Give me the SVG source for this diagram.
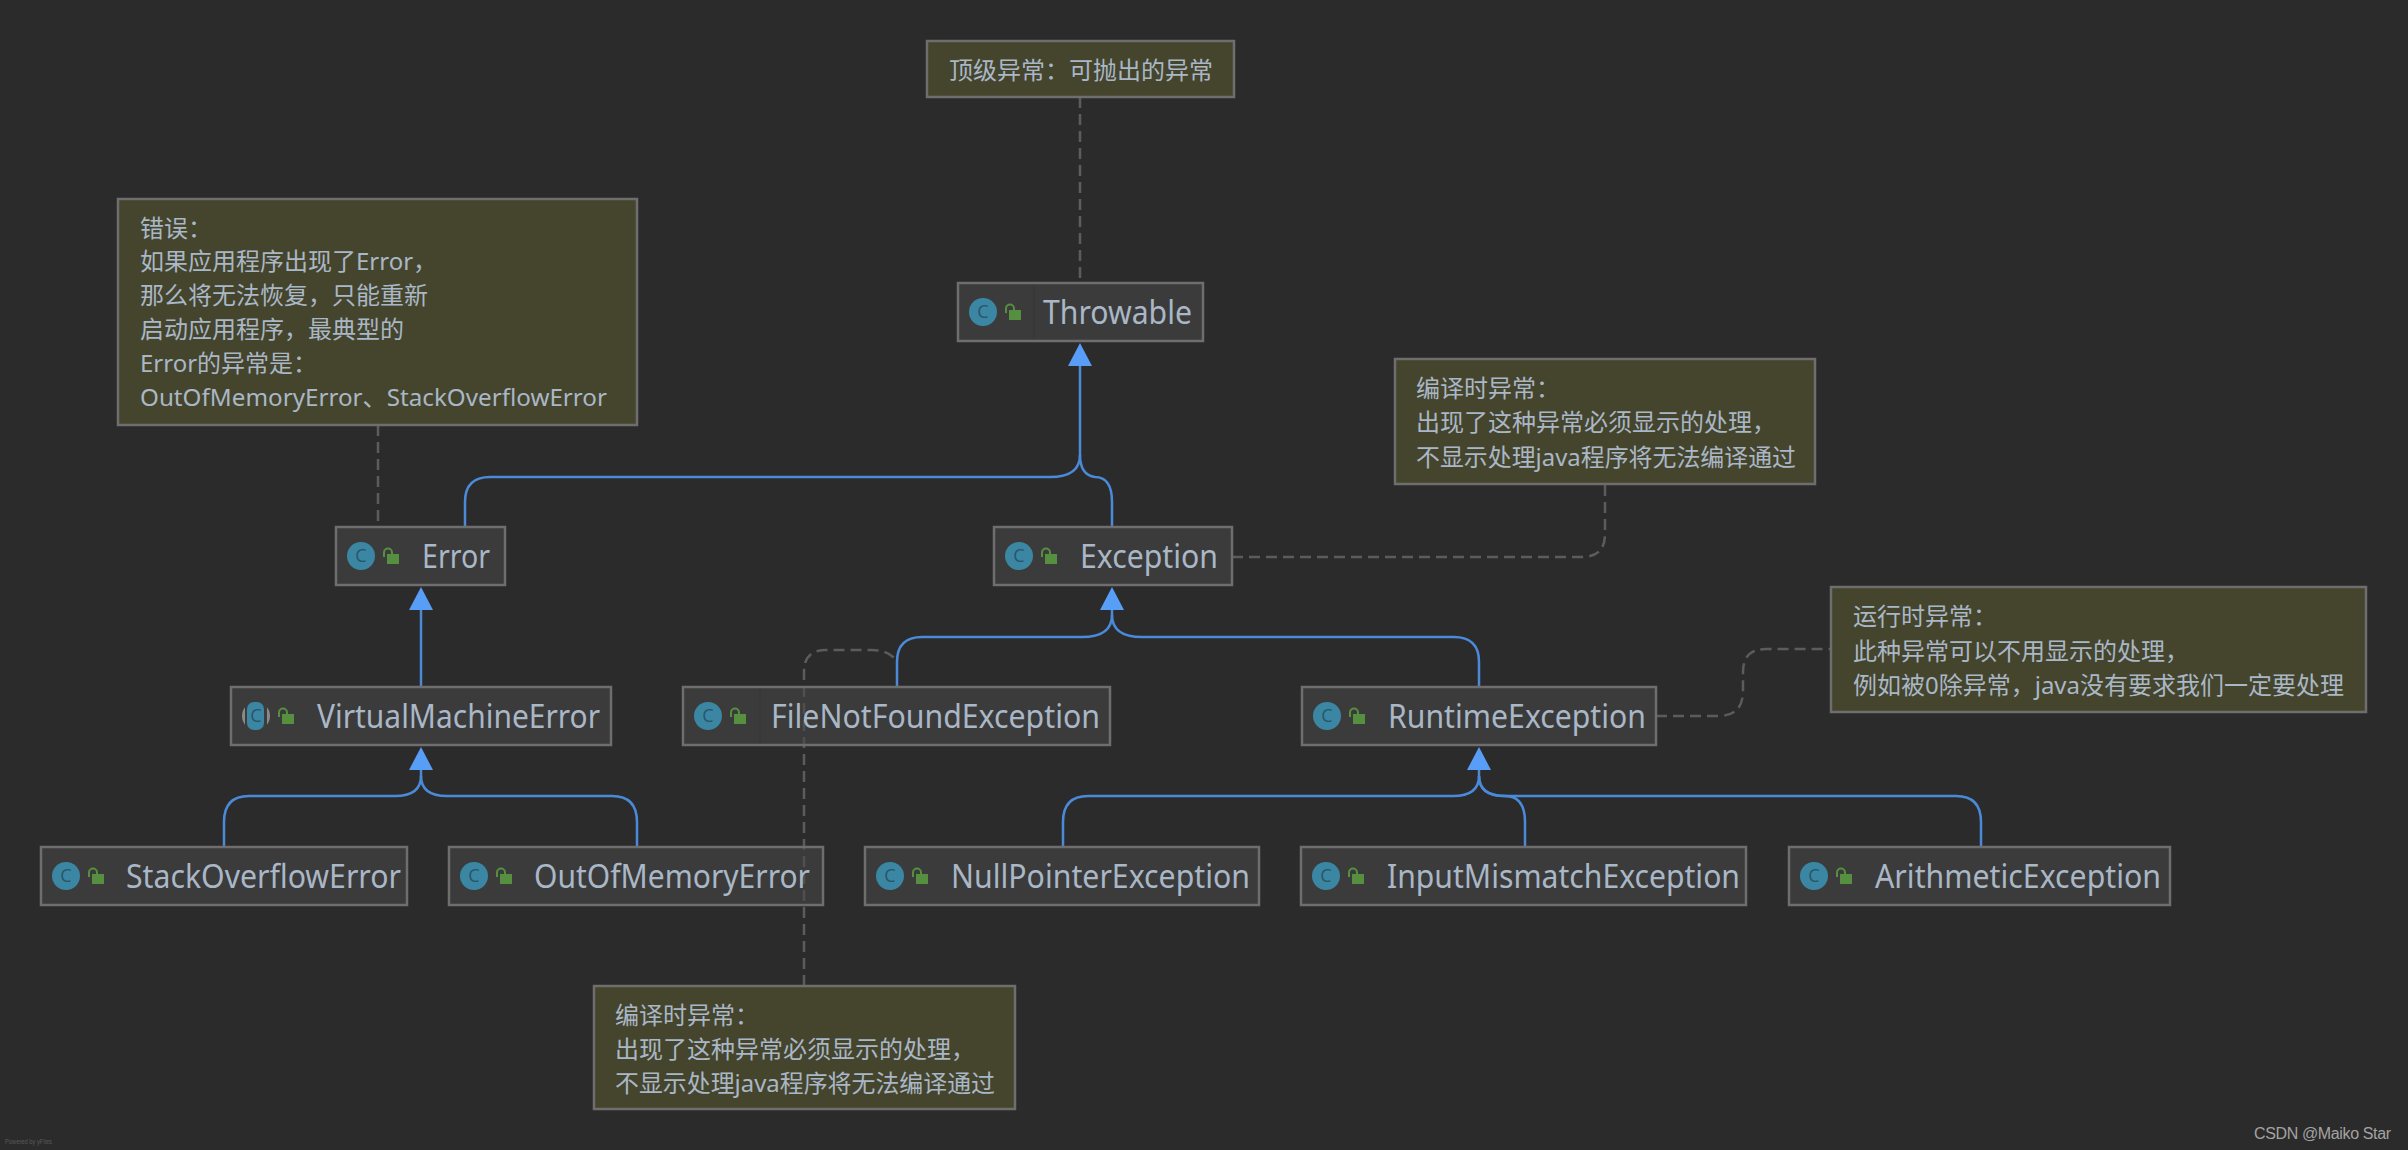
<svg xmlns="http://www.w3.org/2000/svg" xmlns:xlink="http://www.w3.org/1999/xlink" width="2408" height="1150" viewBox="0 0 2408 1150">
<style>
.node{fill:#464646;fill-opacity:.6;stroke:#6e6e6e;stroke-width:2.500}
.note{fill:#45452d;stroke:#6e6e6e;stroke-width:2.500}
.lbl{font-family:"Noto Sans","Noto Sans CJK SC",sans-serif;font-size:32px;fill:#a9b7c6}
.txt{font-family:"Noto Sans","Noto Sans CJK SC",sans-serif;font-size:24px;fill:#a9b7c6}
.ic{fill:#3b87a3}
.c{font-family:"Open Sans",sans-serif;font-size:18px;fill:#29556a;text-anchor:middle}
.div{stroke:#383838;stroke-width:1.5}
.blue{fill:none;stroke:#4a8ad9;stroke-width:2.5}
.dash{fill:none;stroke:#5c5c5c;stroke-width:2.5;stroke-dasharray:11 6}
.head{fill:#589df6}
</style>
<defs>
<g id="lock"><rect x="51" y="27" width="12" height="10" fill="#568f3f"/><path d="M48 30V25.500a4 4 0 0 1 8 0V27" fill="none" stroke="#568f3f" stroke-width="2"/></g>
</defs>
<rect width="2408" height="1150" fill="#2b2b2b"/>
<g id="connectors">
<path class="dash" d="M1080 97V283"/>
<path class="dash" d="M378 425V527"/>
<path class="dash" d="M1232 557H1582Q1605 557 1605 534V484"/>
<path class="dash" d="M1656 716H1718Q1743 716 1743 691V672Q1743 649 1766 649H1831"/>
<path class="dash" d="M804 986V672Q804 650 826 650H872Q888 650 896 660"/>
<path class="blue" d="M465 527V502Q465 477 490 477H1050Q1080 477 1080 455V366"/>
<path class="blue" d="M1112 527V502Q1112 477 1095 477Q1080 475 1080 455"/>
<path class="blue" d="M897 687V662Q897 637 922 637H1082Q1112 637 1112 615V610"/>
<path class="blue" d="M1479 687V662Q1479 637 1454 637H1142Q1112 637 1112 615"/>
<path class="blue" d="M421 687V610"/>
<path class="blue" d="M224 847V822Q224 796 249 796H395Q421 796 421 776V770"/>
<path class="blue" d="M637 847V822Q637 796 612 796H447Q421 796 421 776"/>
<path class="blue" d="M1063 847V822Q1063 796 1088 796H1453Q1479 796 1479 776V770"/>
<path class="blue" d="M1525 847V822Q1525 796 1505 796Q1479 796 1479 776"/>
<path class="blue" d="M1981 847V822Q1981 796 1956 796H1505Q1479 796 1479 776"/>
<polygon class="head" points="1080,343 1068,366 1092,366"/>
<polygon class="head" points="1112,587 1100,610 1124,610"/>
<polygon class="head" points="421,587 409,610 433,610"/>
<polygon class="head" points="421,747 409,770 433,770"/>
<polygon class="head" points="1479,747 1467,770 1491,770"/>
</g>
<g id="note-top">
<rect class="note" x="927" y="41" width="307" height="56"/>
<text class="txt" x="949" y="79">顶级异常：可抛出的异常</text>
</g>
<g id="note-error">
<rect class="note" x="118" y="199" width="519" height="226"/>
<text class="txt" x="140" y="237">错误：</text>
<text class="txt" x="140" y="270">如果应用程序出现了Error，</text>
<text class="txt" x="140" y="304">那么将无法恢复，只能重新</text>
<text class="txt" x="140" y="338">启动应用程序，最典型的</text>
<text class="txt" x="140" y="372">Error的异常是：</text>
<text class="txt" x="140" y="406" textLength="467" lengthAdjust="spacingAndGlyphs">OutOfMemoryError、StackOverflowError</text>
</g>
<g id="note-exception">
<rect class="note" x="1395" y="359" width="420" height="125"/>
<text class="txt" x="1416" y="397">编译时异常：</text>
<text class="txt" x="1416" y="431">出现了这种异常必须显示的处理，</text>
<text class="txt" x="1416" y="466" textLength="380" lengthAdjust="spacingAndGlyphs">不显示处理java程序将无法编译通过</text>
</g>
<g id="note-runtime">
<rect class="note" x="1831" y="587" width="535" height="125"/>
<text class="txt" x="1853" y="625">运行时异常：</text>
<text class="txt" x="1853" y="660">此种异常可以不用显示的处理，</text>
<text class="txt" x="1853" y="694" textLength="491" lengthAdjust="spacingAndGlyphs">例如被0除异常，java没有要求我们一定要处理</text>
</g>
<g id="note-filenotfound">
<rect class="note" x="594" y="986" width="421" height="123"/>
<text class="txt" x="615" y="1024">编译时异常：</text>
<text class="txt" x="615" y="1058">出现了这种异常必须显示的处理，</text>
<text class="txt" x="615" y="1092" textLength="380" lengthAdjust="spacingAndGlyphs">不显示处理java程序将无法编译通过</text>
</g>
<g id="node-throwable">
<rect class="node" x="958" y="283" width="245" height="58"/>
<line class="div" x1="1034" y1="285" x2="1034" y2="339"/>
<circle class="ic" cx="983" cy="312" r="14"/><text class="c" x="983" y="318">C</text>
<use xlink:href="#lock" href="#lock" x="958" y="283"/>
<text class="lbl" x="1043" y="324" textLength="149" lengthAdjust="spacingAndGlyphs">Throwable</text>
</g>
<g id="node-error">
<rect class="node" x="336" y="527" width="169" height="58"/>
<circle class="ic" cx="361" cy="556" r="14"/><text class="c" x="361" y="562">C</text>
<use xlink:href="#lock" href="#lock" x="336" y="527"/>
<text class="lbl" x="422" y="568" textLength="68" lengthAdjust="spacingAndGlyphs">Error</text>
</g>
<g id="node-exception">
<rect class="node" x="994" y="527" width="238" height="58"/>
<circle class="ic" cx="1019" cy="556" r="14"/><text class="c" x="1019" y="562">C</text>
<use xlink:href="#lock" href="#lock" x="994" y="527"/>
<text class="lbl" x="1080" y="568" textLength="138" lengthAdjust="spacingAndGlyphs">Exception</text>
</g>
<g id="node-virtualmachineerror">
<rect class="node" x="231" y="687" width="380" height="58"/>
<circle cx="256" cy="716" r="14" fill="#8a8a8a"/>
<rect x="245" y="702" width="22" height="28" fill="#3c3c3c"/>
<rect class="ic" x="247" y="702" width="17" height="28" rx="7"/><text class="c" x="256" y="722">C</text>
<use xlink:href="#lock" href="#lock" x="231" y="687"/>
<text class="lbl" x="317" y="728" textLength="283" lengthAdjust="spacingAndGlyphs">VirtualMachineError</text>
</g>
<g id="node-filenotfoundexception">
<rect class="node" x="683" y="687" width="427" height="58"/>
<line class="div" x1="760" y1="689" x2="760" y2="743"/>
<circle class="ic" cx="708" cy="716" r="14"/><text class="c" x="708" y="722">C</text>
<use xlink:href="#lock" href="#lock" x="683" y="687"/>
<text class="lbl" x="771" y="728" textLength="329" lengthAdjust="spacingAndGlyphs">FileNotFoundException</text>
</g>
<g id="node-runtimeexception">
<rect class="node" x="1302" y="687" width="354" height="58"/>
<circle class="ic" cx="1327" cy="716" r="14"/><text class="c" x="1327" y="722">C</text>
<use xlink:href="#lock" href="#lock" x="1302" y="687"/>
<text class="lbl" x="1388" y="728" textLength="258" lengthAdjust="spacingAndGlyphs">RuntimeException</text>
</g>
<g id="node-stackoverflowerror">
<rect class="node" x="41" y="847" width="366" height="58"/>
<circle class="ic" cx="66" cy="876" r="14"/><text class="c" x="66" y="882">C</text>
<use xlink:href="#lock" href="#lock" x="41" y="847"/>
<text class="lbl" x="126" y="888" textLength="275" lengthAdjust="spacingAndGlyphs">StackOverflowError</text>
</g>
<g id="node-outofmemoryerror">
<rect class="node" x="449" y="847" width="374" height="58"/>
<circle class="ic" cx="474" cy="876" r="14"/><text class="c" x="474" y="882">C</text>
<use xlink:href="#lock" href="#lock" x="449" y="847"/>
<text class="lbl" x="534" y="888" textLength="276" lengthAdjust="spacingAndGlyphs">OutOfMemoryError</text>
</g>
<g id="node-nullpointerexception">
<rect class="node" x="865" y="847" width="394" height="58"/>
<circle class="ic" cx="890" cy="876" r="14"/><text class="c" x="890" y="882">C</text>
<use xlink:href="#lock" href="#lock" x="865" y="847"/>
<text class="lbl" x="951" y="888" textLength="299" lengthAdjust="spacingAndGlyphs">NullPointerException</text>
</g>
<g id="node-inputmismatchexception">
<rect class="node" x="1301" y="847" width="445" height="58"/>
<circle class="ic" cx="1326" cy="876" r="14"/><text class="c" x="1326" y="882">C</text>
<use xlink:href="#lock" href="#lock" x="1301" y="847"/>
<text class="lbl" x="1387" y="888" textLength="353" lengthAdjust="spacingAndGlyphs">InputMismatchException</text>
</g>
<g id="node-arithmeticexception">
<rect class="node" x="1789" y="847" width="381" height="58"/>
<circle class="ic" cx="1814" cy="876" r="14"/><text class="c" x="1814" y="882">C</text>
<use xlink:href="#lock" href="#lock" x="1789" y="847"/>
<text class="lbl" x="1875" y="888" textLength="286" lengthAdjust="spacingAndGlyphs">ArithmeticException</text>
</g>
<text x="5" y="1144" font-family="Liberation Sans, sans-serif" font-size="6.500" fill="#5a5a5a" textLength="47" lengthAdjust="spacingAndGlyphs">Powered by yFiles</text>
<text x="2254" y="1139" font-family="Liberation Sans, sans-serif" font-size="16" fill="#a3a3a3" textLength="137" lengthAdjust="spacing">CSDN @Maiko Star</text>
</svg>
